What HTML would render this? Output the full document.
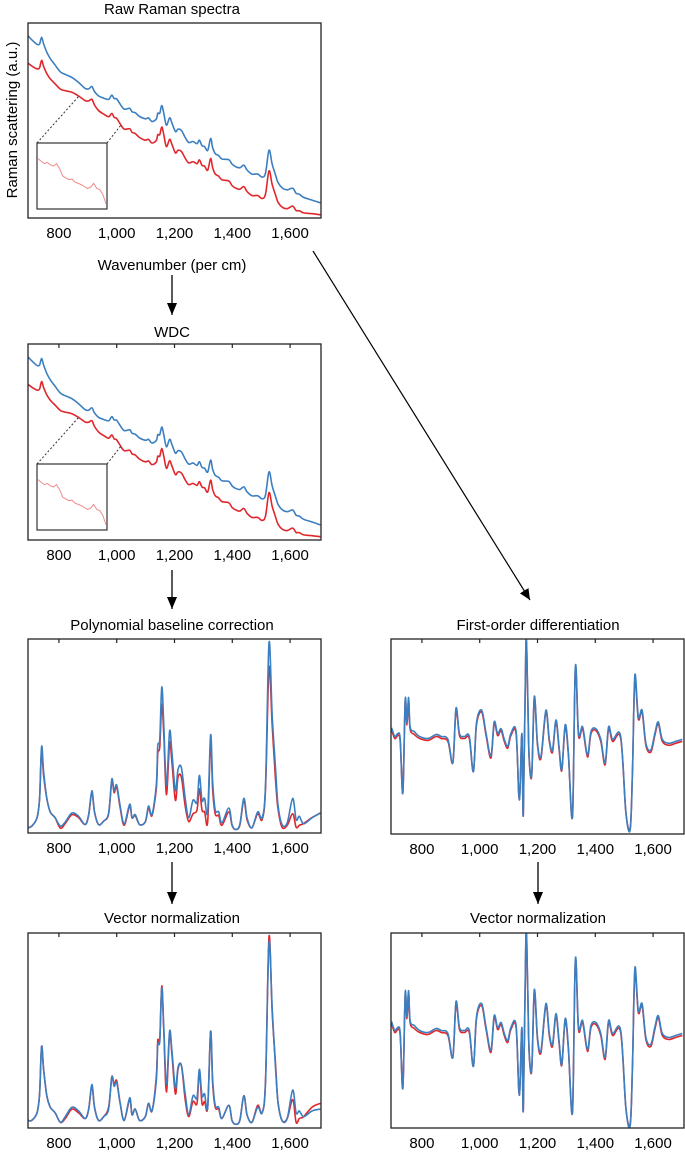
<!DOCTYPE html>
<html><head><meta charset="utf-8"><style>
body{margin:0;background:#fff}
svg{display:block;font-family:"Liberation Sans",sans-serif}
</style></head><body>
<svg id="fig" width="685" height="1153" viewBox="0 0 685 1153">
<defs>
<marker id="ah" markerWidth="12" markerHeight="10" refX="12" refY="5" orient="auto" markerUnits="userSpaceOnUse"><path d="M0,0 L12,5 L0,10 Z" fill="#000"/></marker>
<marker id="ah2" markerWidth="11" markerHeight="10" refX="11" refY="5" orient="auto" markerUnits="userSpaceOnUse"><path d="M0,0 L11,5 L0,10 Z" fill="#000"/></marker></defs>
<text x="172" y="14" font-size="15" text-anchor="middle">Raw Raman spectra</text>
<text x="172" y="337" font-size="15" text-anchor="middle">WDC</text>
<text x="172" y="630" font-size="15" text-anchor="middle">Polynomial baseline correction</text>
<text x="538" y="630" font-size="15" text-anchor="middle">First-order differentiation</text>
<text x="172" y="923" font-size="15" text-anchor="middle">Vector normalization</text>
<text x="538" y="923" font-size="15" text-anchor="middle">Vector normalization</text>
<text x="172" y="270" font-size="15" text-anchor="middle">Wavenumber (per cm)</text>
<text transform="translate(17,120) rotate(-90)" font-size="15" text-anchor="middle">Raman scattering (a.u.)</text>
<line x1="172" y1="275" x2="172" y2="315" stroke="#000" stroke-width="1.3" marker-end="url(#ah)"/>
<line x1="172" y1="570" x2="172" y2="609" stroke="#000" stroke-width="1.3" marker-end="url(#ah)"/>
<line x1="172" y1="862" x2="172" y2="904" stroke="#000" stroke-width="1.3" marker-end="url(#ah)"/>
<line x1="538" y1="862" x2="538" y2="904" stroke="#000" stroke-width="1.3" marker-end="url(#ah)"/>
<line x1="313" y1="251" x2="530" y2="600" stroke="#000" stroke-width="1.2" marker-end="url(#ah2)"/>
<g id="panels"></g>
</svg>
<script>
const ticks=[800,1000,1200,1400,1600];
const tickLabels=["800","1,000","1,200","1,400","1,600"];
const wn=[694,706,724,733,740,747,758,770,787,805,822,845,868,891,903,914,923,937,955,972,983,991,1000,1012,1026,1045,1053,1064,1079,1099,1110,1122,1137,1142,1149,1156,1163,1172,1183,1191,1203,1212,1224,1237,1249,1264,1278,1286,1295,1304,1315,1325,1332,1341,1353,1364,1388,1399,1411,1426,1440,1451,1468,1488,1503,1515,1527,1538,1550,1558,1572,1590,1609,1621,1632,1647,1676,1705];
const polyBlue=[.017,.026,.069,.17,.44,.31,.17,.10,.069,.026,.048,.094,.077,.034,.086,.21,.10,.034,.052,.094,.27,.21,.24,.13,.038,.14,.069,.086,.034,.048,.13,.086,.24,.44,.48,.75,.55,.24,.52,.41,.21,.32,.33,.17,.069,.16,.15,.29,.16,.17,.10,.50,.26,.11,.10,.043,.12,.034,.009,.034,.17,.069,.017,.10,.069,.24,.98,.60,.32,.14,.034,.043,.17,.06,.077,.038,.069,.094];
const polyRed=[.017,.026,.069,.17,.42,.29,.17,.10,.069,.015,.04,.085,.07,.034,.086,.20,.10,.034,.052,.09,.26,.20,.23,.12,.03,.13,.069,.08,.034,.048,.12,.08,.22,.40,.44,.66,.50,.19,.46,.36,.16,.28,.28,.13,.05,.09,.11,.22,.11,.10,.05,.47,.22,.09,.08,.03,.10,.03,.009,.03,.16,.06,.017,.09,.06,.22,.85,.55,.26,.12,.02,.03,.09,.02,.03,.04,.07,.094];
const vecBlue=[.03,.03,.07,.17,.42,.30,.16,.10,.07,.02,.05,.10,.08,.04,.09,.22,.10,.03,.05,.09,.26,.21,.23,.12,.03,.15,.06,.09,.03,.05,.12,.08,.24,.43,.45,.73,.52,.22,.50,.40,.20,.31,.32,.17,.06,.16,.15,.30,.16,.17,.10,.50,.25,.11,.10,.04,.11,.03,.01,.03,.16,.06,.02,.10,.07,.23,.97,.62,.30,.13,.03,.04,.19,.07,.08,.05,.08,.09];
const vecRed=[.03,.03,.07,.17,.42,.30,.16,.10,.07,.02,.04,.09,.07,.04,.09,.21,.10,.03,.05,.10,.26,.22,.24,.12,.03,.14,.06,.09,.03,.05,.12,.08,.26,.45,.46,.74,.50,.18,.49,.38,.17,.30,.32,.14,.05,.13,.12,.29,.12,.13,.10,.50,.23,.10,.09,.04,.11,.03,.01,.03,.16,.06,.02,.11,.07,.24,1.0,.60,.32,.13,.03,.04,.14,.02,.04,.05,.10,.12];
const rawBaseWn=[694,800,900,1000,1100,1200,1300,1400,1500,1600,1707];
const rawBaseBlue=[.93,.75,.65,.57,.50,.41,.34,.27,.20,.13,.06];
const rawBaseRed=[.79,.66,.59,.47,.39,.30,.24,.16,.09,.035,.0];
const dwn=[695,706,717,725,734,742,748,754,759,774,792,821,849,867,890,907,918,930,947,964,978,989,1007,1022,1039,1050,1062,1074,1085,1097,1108,1126,1137,1146,1151,1160,1166,1171,1180,1189,1200,1212,1229,1241,1252,1264,1275,1284,1296,1307,1321,1331,1342,1356,1373,1385,1402,1419,1434,1446,1460,1488,1506,1521,1529,1537,1549,1562,1575,1592,1606,1618,1632,1655,1678,1701];
const derivBlue=[.09,0,.03,-.03,-.58,.38,.14,.40,.10,.05,0,-.02,.02,0,-.03,-.27,.29,.03,0,0,-.36,.14,.27,.03,-.20,.15,.03,.08,-.03,-.10,.03,.05,-.65,.03,-.80,.96,.44,-.20,-.39,.41,-.07,-.20,.27,-.03,-.14,.17,-.12,-.34,.12,-.17,-.82,.72,.03,.10,-.19,.05,.08,-.03,-.27,.10,-.03,0,-.78,-.95,-.31,.63,.20,.27,-.07,-.14,.03,.15,-.03,-.07,-.05,-.03];
const derivRed=[.07,-.02,.01,-.05,-.58,.36,.12,.38,.08,.02,-.02,-.04,0,-.02,-.05,-.27,.27,.01,-.02,-.02,-.36,.12,.25,.01,-.22,.13,.01,.06,-.05,-.12,.01,.03,-.65,.01,-.80,.94,.42,-.22,-.40,.39,-.09,-.22,.25,-.05,-.16,.15,-.14,-.35,.10,-.19,-.82,.70,.01,.08,-.21,.03,.06,-.05,-.29,.08,-.05,-.02,-.78,-.93,-.31,.58,.18,.25,-.09,-.16,.01,.13,-.05,-.09,-.07,-.05];
const insetVals=[.78,.74,.70,.72,.68,.66,.70,.62,.50,.47,.44,.45,.40,.38,.36,.33,.30,.32,.38,.30,.28,.20,.05];

const NS="http://www.w3.org/2000/svg";
const root=document.getElementById('panels');
const XMIN=693,XMAX=1707;
function mk(tag,attrs,parent){const e=document.createElementNS(NS,tag);for(const k in attrs)e.setAttribute(k,attrs[k]);(parent||root).appendChild(e);return e;}
function interp(xs,ys,x){for(let i=0;i<xs.length-1;i++){if(x<=xs[i+1]){const t=(x-xs[i])/(xs[i+1]-xs[i]);return ys[i]+t*(ys[i+1]-ys[i]);}}return ys[ys.length-1];}
function smoothPath(pts){
  let d='M'+pts[0][0].toFixed(1)+','+pts[0][1].toFixed(1);
  for(let i=0;i<pts.length-1;i++){
    const p0=pts[Math.max(0,i-1)],p1=pts[i],p2=pts[i+1],p3=pts[Math.min(pts.length-1,i+2)];
    const c1x=p1[0]+(p2[0]-p0[0])/6,c1y=p1[1]+(p2[1]-p0[1])/6;
    const c2x=p2[0]-(p3[0]-p1[0])/6,c2y=p2[1]-(p3[1]-p1[1])/6;
    d+='C'+c1x.toFixed(1)+','+c1y.toFixed(1)+' '+c2x.toFixed(1)+','+c2y.toFixed(1)+' '+p2[0].toFixed(1)+','+p2[1].toFixed(1);
  }
  return d;
}
function panel(name,x0,x1,y0,y1,ymin,ymax,series,topTicks){
  const g=mk('g',{});
  
  
  const sx=v=>x0+(v-XMIN)/(XMAX-XMIN)*(x1-x0);
  const sy=v=>y1-(v-ymin)/(ymax-ymin)*(y1-y0);
  const clip=mk('clipPath',{id:'c-'+name},g);mk('rect',{x:x0,y:y0,width:x1-x0,height:y1-y0},clip);
  series.forEach(s=>{
    const pts=s.xs.map((x,i)=>[sx(x),sy(s.ys[i])]);
    const p=mk('path',{d:smoothPath(pts),fill:'none',stroke:s.color,'stroke-width':1.6,'stroke-linejoin':'round','clip-path':'url(#c-'+name+')'},g);
    
    
  });
  const fr=mk('rect',{x:x0,y:y0,width:x1-x0,height:y1-y0,fill:'none',stroke:'#222','stroke-width':1.3},g);
  
  
  ticks.forEach((t,i)=>{
    if(topTicks){const tk=mk('line',{x1:sx(t),x2:sx(t),y1:y0,y2:y0+4,stroke:'#222','stroke-width':1.2},g);
      
      }
    const tl=mk('text',{x:sx(t),y:y1+20,'font-size':15,'text-anchor':'middle'},g);
    tl.textContent=tickLabels[i];
    
    
  });
  return {sx,sy,g};
}
function rawSeries(base){return wn.map((x,i)=>interp(rawBaseWn,base,x)+0.17*polyBlue[i]);}
function rawPanel(name,y0,y1,topTicks){
  const p=panel(name,28,321,y0,y1,0,1,[
    {name:'raw-red-spectrum',color:'#e0272b',xs:wn,ys:rawSeries(rawBaseRed)},
    {name:'raw-blue-spectrum',color:'#3b7fc0',xs:wn,ys:rawSeries(rawBaseBlue)}],topTicks);
  const off=y0-23;
  const ix0=37,ix1=107,iy0=143+off,iy1=209+off;
  const l1=mk('line',{x1:ix0,y1:iy0,x2:79,y2:96+off,stroke:'#333','stroke-dasharray':'2,2','stroke-width':1},p.g);
  
  
  const l2=mk('line',{x1:ix1,y1:iy0,x2:121,y2:125+off,stroke:'#333','stroke-dasharray':'2,2','stroke-width':1},p.g);
  
  
  const r=mk('rect',{x:ix0,y:iy0,width:ix1-ix0,height:iy1-iy0,fill:'#fff',stroke:'#333','stroke-width':1.2},p.g);
  
  
  const d=insetVals.map((v,i)=>(i?'L':'M')+(ix0+1+i*(ix1-ix0-2)/(insetVals.length-1)).toFixed(1)+','+(iy1-2-v*(iy1-iy0-4)).toFixed(1)).join('');
  const ip=mk('path',{d:d,fill:'none',stroke:'#ef8a8a','stroke-width':1},p.g);
  
  
}
rawPanel('raw-spectra-panel',23,218,false);
rawPanel('wdc-panel',344,540,true);
panel('polynomial-panel',28,321,639,833,-0.01,1.0,[
  {name:'poly-red-spectrum',color:'#e0272b',xs:wn,ys:polyRed},
  {name:'poly-blue-spectrum',color:'#3b7fc0',xs:wn,ys:polyBlue}],true);
panel('vector-norm-panel',28,321,933,1128,-0.01,1.02,[
  {name:'vec-red-spectrum',color:'#e0272b',xs:wn,ys:vecRed},
  {name:'vec-blue-spectrum',color:'#3b7fc0',xs:wn,ys:vecBlue}],true);
panel('derivative-panel',391,684,639,834,-1.0,1.0,[
  {name:'deriv-red-spectrum',color:'#e0272b',xs:dwn,ys:derivRed},
  {name:'deriv-blue-spectrum',color:'#3b7fc0',xs:dwn,ys:derivBlue}],true);
panel('deriv-vector-panel',391,684,933,1128,-0.98,0.98,[
  {name:'deriv-vec-red-spectrum',color:'#e0272b',xs:dwn,ys:derivRed},
  {name:'deriv-vec-blue-spectrum',color:'#3b7fc0',xs:dwn,ys:derivBlue}],true);
</script>
</body></html>
